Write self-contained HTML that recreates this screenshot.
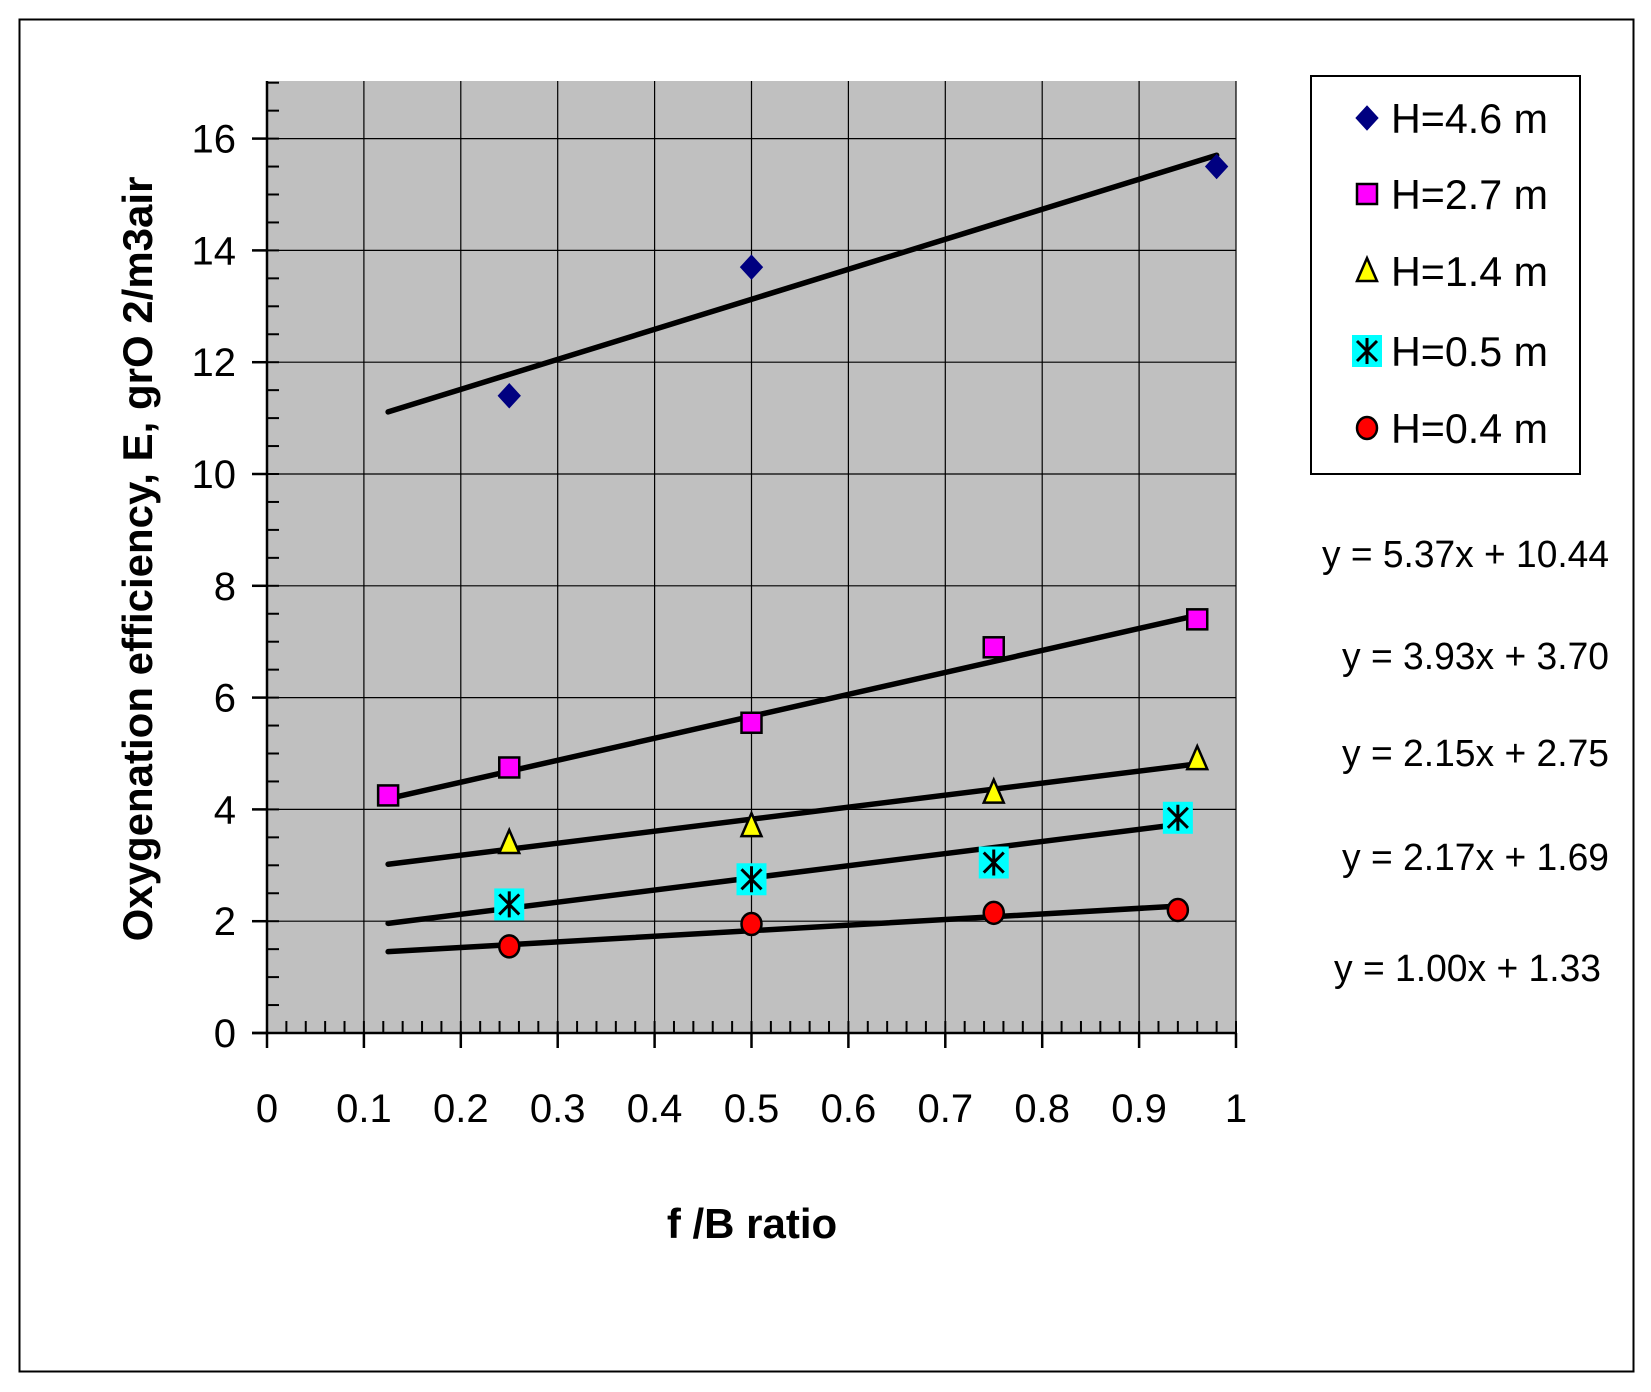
<!DOCTYPE html>
<html><head><meta charset="utf-8"><style>
html,body{margin:0;padding:0;background:#fff;}
svg{display:block;font-family:"Liberation Sans",sans-serif;}
</style></head><body>
<svg id="s" width="1651" height="1392" viewBox="0 0 1651 1392" xmlns="http://www.w3.org/2000/svg">
<rect x="19.5" y="19.5" width="1614" height="1352" fill="#fff" stroke="#000" stroke-width="2"/>
<rect x="267" y="81" width="969" height="952" fill="#c0c0c0"/>
<g id="g"></g>
<rect x="1311" y="76" width="269" height="398" fill="#fff" stroke="#000" stroke-width="2"/>
<g id="lg"></g>
<g font-size="42" fill="#000">
<text x="1391" y="133" textLength="157" lengthAdjust="spacingAndGlyphs">H=4.6 m</text>
<text x="1391" y="209" textLength="157" lengthAdjust="spacingAndGlyphs">H=2.7 m</text>
<text x="1391" y="286" textLength="157" lengthAdjust="spacingAndGlyphs">H=1.4 m</text>
<text x="1391" y="366" textLength="157" lengthAdjust="spacingAndGlyphs">H=0.5 m</text>
<text x="1391" y="443" textLength="157" lengthAdjust="spacingAndGlyphs">H=0.4 m</text>
</g>
<g font-size="38" fill="#000" text-anchor="end">
<text x="1609" y="567" textLength="287" lengthAdjust="spacingAndGlyphs">y = 5.37x + 10.44</text>
<text x="1609" y="669" textLength="267" lengthAdjust="spacingAndGlyphs">y = 3.93x + 3.70</text>
<text x="1609" y="766" textLength="267" lengthAdjust="spacingAndGlyphs">y = 2.15x + 2.75</text>
<text x="1609" y="870" textLength="267" lengthAdjust="spacingAndGlyphs">y = 2.17x + 1.69</text>
<text x="1601" y="981" textLength="267" lengthAdjust="spacingAndGlyphs">y = 1.00x + 1.33</text>
</g>
<text x="752" y="1238" font-size="42" font-weight="bold" text-anchor="middle">f /B ratio</text>
<text transform="translate(152,559) rotate(-90)" font-size="42" font-weight="bold" text-anchor="middle">Oxygenation efficiency,  E,  grO 2/m3air</text>
</svg>
<script>
var NS="http://www.w3.org/2000/svg",g=document.getElementById('g'),lg=document.getElementById('lg');
function px(x){return 267+969*x}function py(y){return 1033-55.9*y}
function el(t,a,p){var e=document.createElementNS(NS,t);for(var k in a)e.setAttribute(k,a[k]);(p||g).appendChild(e);return e}
for(var i=1;i<=10;i++){el('line',{x1:px(i/10),x2:px(i/10),y1:81,y2:1033,stroke:'#000','stroke-width':1.2});}
for(var j=2;j<=16;j+=2){el('line',{x1:267,x2:1236,y1:py(j),y2:py(j),stroke:'#000','stroke-width':1.2});}
el('line',{x1:267,x2:267,y1:81,y2:1033,stroke:'#000','stroke-width':2.5});
el('line',{x1:252,x2:1236,y1:1033,y2:1033,stroke:'#000','stroke-width':2.5});
for(var i=0;i<=50;i++){var x=px(i/50);el('line',{x1:x,x2:x,y1:1021,y2:1033,stroke:'#000','stroke-width':2});}
for(var i=0;i<=10;i++){var x=px(i/10);el('line',{x1:x,x2:x,y1:1033,y2:1048,stroke:'#000','stroke-width':2.5});
 var t=el('text',{x:x,y:1122,'font-size':40,'text-anchor':'middle'});t.textContent=i==0?'0':i==10?'1':'0.'+i;}
for(var j=0;j<=34;j++){var y=py(j/2);el('line',{x1:267,x2:279,y1:y,y2:y,stroke:'#000','stroke-width':2});}
for(var j=0;j<=16;j+=2){var y=py(j);el('line',{x1:252,x2:267,y1:y,y2:y,stroke:'#000','stroke-width':2.5});
 var t=el('text',{x:236,y:y+14,'font-size':40,'text-anchor':'end'});t.textContent=j;}
var L=[[5.37,10.44,.98],[3.93,3.70,.96],[2.15,2.75,.96],[2.17,1.69,.94],[1.00,1.33,.94]];
L.forEach(function(l){el('line',{x1:px(.125),y1:py(l[0]*.125+l[1]),x2:px(l[2]),y2:py(l[0]*l[2]+l[1]),stroke:'#000','stroke-width':5.5,'stroke-linecap':'round'});});
function dia(x,y,p){el('polygon',{points:(x)+','+(y-12)+' '+(x+11)+','+y+' '+x+','+(y+12)+' '+(x-11)+','+y,fill:'#000080',stroke:'#000080'},p);}
function sq(x,y,p){el('rect',{x:x-10,y:y-10,width:20,height:20,fill:'#ff00ff',stroke:'#000','stroke-width':2.5},p);}
function tri(x,y,p){el('polygon',{points:x+','+(y-13)+' '+(x+10)+','+(y+10)+' '+(x-10)+','+(y+10),fill:'#ffff00',stroke:'#000','stroke-width':2.5},p);}
function ast(x,y,p){el('rect',{x:x-15,y:y-16,width:30,height:32,fill:'#00ffff'},p);
 el('path',{d:'M'+(x-10)+' '+(y-10)+'L'+(x+10)+' '+(y+10)+'M'+(x+10)+' '+(y-10)+'L'+(x-10)+' '+(y+10)+'M'+x+' '+(y-13)+'L'+x+' '+(y+13),stroke:'#000','stroke-width':3},p);}
function cir(x,y,p){el('ellipse',{cx:x,cy:y,rx:10,ry:11,fill:'#ff0000',stroke:'#000','stroke-width':2.5},p);}
[[.25,11.4],[.5,13.7],[.98,15.5]].forEach(function(p){dia(px(p[0]),py(p[1]))});
[[.125,4.25],[.25,4.75],[.5,5.55],[.75,6.9],[.96,7.4]].forEach(function(p){sq(px(p[0]),py(p[1]))});
[[.25,3.4],[.5,3.7],[.75,4.3],[.96,4.9]].forEach(function(p){tri(px(p[0]),py(p[1]))});
[[.25,2.3],[.5,2.75],[.75,3.05],[.94,3.85]].forEach(function(p){ast(px(p[0]),py(p[1]))});
[[.25,1.55],[.5,1.95],[.75,2.15],[.94,2.2]].forEach(function(p){cir(px(p[0]),py(p[1]))});
dia(1367,118,lg);sq(1367,194,lg);tri(1367,271,lg);ast(1367,351,lg);cir(1367,428,lg);
</script>
</body></html>
